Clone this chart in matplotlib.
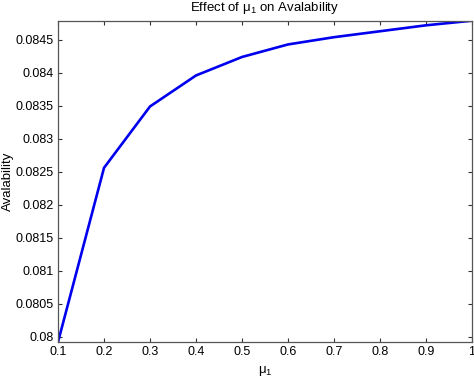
import numpy as np
import matplotlib
matplotlib.use("Agg")
import matplotlib.pyplot as plt
from matplotlib.ticker import FuncFormatter

# data
mu1 = [0.1, 0.2, 0.3, 0.4, 0.5, 0.6, 0.7, 0.8, 0.9, 1.0]
availability = [0.07992, 0.08256, 0.08349, 0.08396, 0.08424,
                0.08443, 0.08454, 0.08463, 0.08472, 0.08479]

x_ticks = [0.1, 0.2, 0.3, 0.4, 0.5, 0.6, 0.7, 0.8, 0.9, 1.0]
y_ticks = [0.08, 0.0805, 0.081, 0.0815, 0.082, 0.0825,
           0.083, 0.0835, 0.084, 0.0845]

plt.rcParams["font.family"] = ["Liberation Sans", "DejaVu Sans"]
plt.rcParams["mathtext.fontset"] = "custom"
plt.rcParams["mathtext.rm"] = "Liberation Sans"
plt.rcParams["mathtext.it"] = "Liberation Sans"
plt.rcParams["mathtext.default"] = "regular"

fig = plt.figure(figsize=(4.74, 3.79), dpi=100)
ax = fig.add_axes([0.1224, 0.0976, 0.8734, 0.8478])

ax.plot(mu1, availability, color="#0000ee", linewidth=1.9)

ax.set_xlim(min(mu1), max(mu1))
ax.set_ylim(min(availability), max(availability))
ax.set_xticks(x_ticks)
ax.set_yticks(y_ticks)
ax.xaxis.set_major_formatter(FuncFormatter(lambda v, p: "%g" % round(v, 4)))
ax.yaxis.set_major_formatter(FuncFormatter(lambda v, p: "%g" % round(v, 5)))

ax.tick_params(direction="in", length=3, width=0.8, labelsize=9, pad=3,
               top=True, right=True, colors="#333333", labelcolor="black")
for s in ax.spines.values():
    s.set_color("#555555")
    s.set_linewidth(0.9)

ax.set_title(r"Effect of $\mu_1$ on Avalability", fontsize=9.5, pad=7)
ax.set_xlabel(r"$\mu_1$", fontsize=9.5, labelpad=4)
ax.set_ylabel("Avalability", fontsize=9.5, labelpad=1.5)

fig.savefig("out.png", dpi=100)
